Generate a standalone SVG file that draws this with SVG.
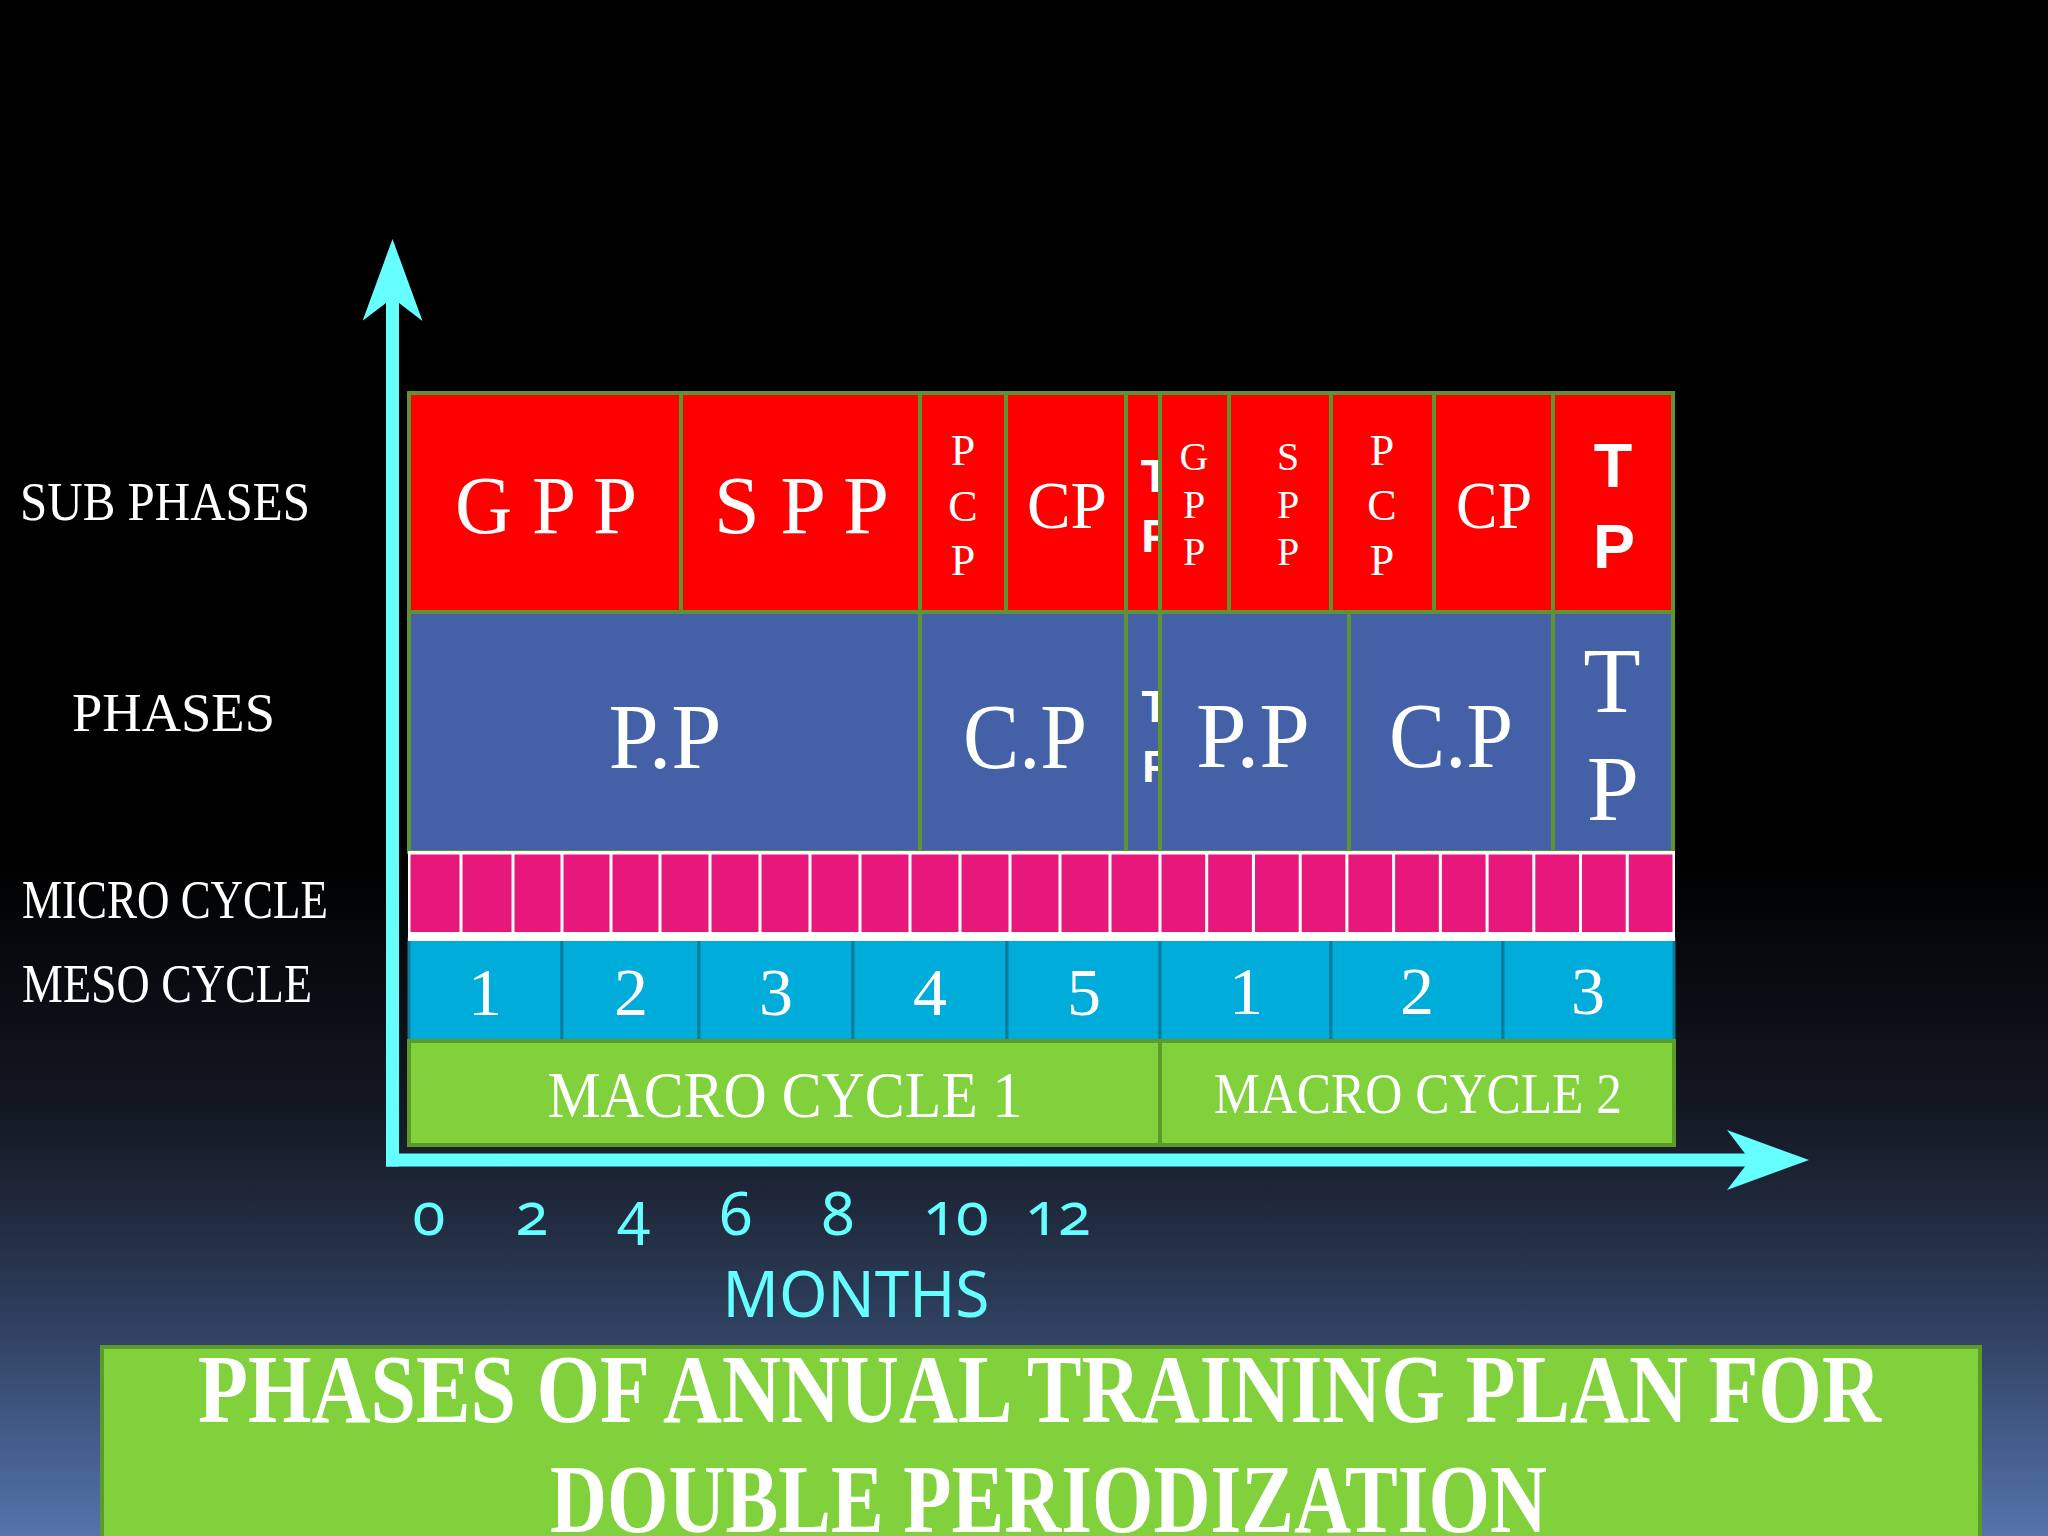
<svg xmlns="http://www.w3.org/2000/svg" width="2048" height="1536" viewBox="0 0 2048 1536">
  <defs>
    <linearGradient id="bg" gradientUnits="userSpaceOnUse" x1="0" y1="0" x2="0" y2="1536">
      <stop offset="0" stop-color="#000000"/>
      <stop offset="0.56" stop-color="#000000"/>
      <stop offset="0.72" stop-color="#121722"/>
      <stop offset="0.76" stop-color="#1b2231"/>
      <stop offset="0.84" stop-color="#2a3954"/>
      <stop offset="0.88" stop-color="#34476a"/>
      <stop offset="1" stop-color="#5474ac"/>
    </linearGradient>
    <marker id="arrow" markerUnits="userSpaceOnUse" markerWidth="82" markerHeight="60" viewBox="0 0 82 60" refX="23" refY="30" orient="auto">
      <path d="M0,0 L82,30 L0,60 L23,30 Z" fill="#66FFFF"/>
    </marker>
    <clipPath id="clipTr"><rect x="1128" y="395" width="30" height="215"/></clipPath>
    <clipPath id="clipTb"><rect x="1128" y="614" width="30" height="236"/></clipPath>
    <style>
      .red { fill: #FF0000; stroke: #5F9232; stroke-width: 4; }
      .blue { fill: #4461A8; stroke: #5F9232; stroke-width: 4; }
      .pink { fill: #E8177B; }
      .meso { fill: #00ACDA; stroke: #0B7C9E; stroke-width: 3; }
      .macro { fill: #80D13C; stroke: #5C9A2A; stroke-width: 4; }
      .serif { font-family: "Liberation Serif", "DejaVu Serif", serif; fill: #FFFFFF; }
      .sansb { font-family: "Liberation Sans", Arial, sans-serif; font-weight: bold; fill: #FFFFFF; }
      .mid { text-anchor: middle; }
      .lbl { font-size: 55px; }
      .big { font-size: 94px; }
      .sub { font-size: 83px; }
      .cp { font-size: 68px; }
      .vs { font-size: 44px; }
      .vg { font-size: 40px; }
      .num { font-size: 68px; }
      .month { font-family: "Noto Sans", "Open Sans", sans-serif; fill: #66FFFF; font-size: 60px; font-variant-numeric: oldstyle-nums; font-feature-settings: "onum" 1; text-anchor: middle; }
      .axis { stroke: #66FFFF; stroke-width: 13; fill: none; }
    </style>
  </defs>

  <rect x="0" y="0" width="2048" height="1536" fill="url(#bg)"/>

  <!-- Row labels -->
  <g id="row-labels">
    <text class="serif lbl" x="20" y="520" textLength="290" lengthAdjust="spacingAndGlyphs">SUB PHASES</text>
    <text class="serif lbl" x="72" y="731" textLength="203" lengthAdjust="spacingAndGlyphs">PHASES</text>
    <text class="serif lbl" x="22" y="918" textLength="306" lengthAdjust="spacingAndGlyphs">MICRO CYCLE</text>
    <text class="serif lbl" x="22" y="1002" textLength="290" lengthAdjust="spacingAndGlyphs">MESO CYCLE</text>
  </g>

  <!-- Sub phases row -->
  <g id="sub-gpp1"><rect class="red" x="409" y="393" width="272" height="219"/>
    <text class="serif sub" x="455" y="533" textLength="182" lengthAdjust="spacingAndGlyphs">G P P</text></g>
  <g id="sub-spp1"><rect class="red" x="681" y="393" width="239" height="219"/>
    <text class="serif sub" x="714" y="533" textLength="175" lengthAdjust="spacingAndGlyphs">S P P</text></g>
  <g id="sub-pcp1"><rect class="red" x="920" y="393" width="86" height="219"/>
    <text class="serif vs mid" x="963" y="465">P</text>
    <text class="serif vs mid" x="963" y="521">C</text>
    <text class="serif vs mid" x="963" y="575">P</text></g>
  <g id="sub-cp1"><rect class="red" x="1006" y="393" width="120" height="219"/>
    <text class="serif cp mid" x="1067" y="528" textLength="80" lengthAdjust="spacingAndGlyphs">CP</text></g>
  <g id="sub-tp1"><rect class="red" x="1126" y="393" width="34" height="219"/>
    <g clip-path="url(#clipTr)">
      <text class="sansb mid" font-size="47" x="1155" y="492">T</text>
      <text class="sansb mid" font-size="47" x="1157" y="552">P</text>
    </g></g>
  <g id="sub-gpp2"><rect class="red" x="1160" y="393" width="69" height="219"/>
    <text class="serif vg mid" x="1194" y="470">G</text>
    <text class="serif vg mid" x="1194" y="518">P</text>
    <text class="serif vg mid" x="1194" y="565">P</text></g>
  <g id="sub-spp2"><rect class="red" x="1229" y="393" width="102" height="219"/>
    <text class="serif vg mid" x="1288" y="470">S</text>
    <text class="serif vg mid" x="1288" y="518">P</text>
    <text class="serif vg mid" x="1288" y="565">P</text></g>
  <g id="sub-pcp2"><rect class="red" x="1331" y="393" width="103" height="219"/>
    <text class="serif vs mid" x="1382" y="465">P</text>
    <text class="serif vs mid" x="1382" y="520">C</text>
    <text class="serif vs mid" x="1382" y="575">P</text></g>
  <g id="sub-cp2"><rect class="red" x="1434" y="393" width="119" height="219"/>
    <text class="serif cp mid" x="1494" y="528" textLength="76" lengthAdjust="spacingAndGlyphs">CP</text></g>
  <g id="sub-tp2"><rect class="red" x="1553" y="393" width="120" height="219"/>
    <text class="sansb mid" font-size="63" x="1613" y="487">T</text>
    <text class="sansb mid" font-size="63" x="1614" y="568">P</text></g>

  <!-- Phases row -->
  <g id="ph-pp1"><rect class="blue" x="409" y="612" width="511" height="240"/>
    <text class="serif big mid" x="665" y="768" textLength="113" lengthAdjust="spacingAndGlyphs">P.P</text></g>
  <g id="ph-cp1"><rect class="blue" x="920" y="612" width="206" height="240"/>
    <text class="serif big mid" x="1025" y="768" textLength="124" lengthAdjust="spacingAndGlyphs">C.P</text></g>
  <g id="ph-tp1"><rect class="blue" x="1126" y="612" width="34" height="240"/>
    <g clip-path="url(#clipTb)">
      <text class="sansb mid" font-size="44" x="1155" y="722">T</text>
      <text class="sansb mid" font-size="44" x="1157" y="782">P</text>
    </g></g>
  <g id="ph-pp2"><rect class="blue" x="1160" y="612" width="189" height="240"/>
    <text class="serif big mid" x="1253" y="767" textLength="114" lengthAdjust="spacingAndGlyphs">P.P</text></g>
  <g id="ph-cp2"><rect class="blue" x="1349" y="612" width="204" height="240"/>
    <text class="serif big mid" x="1451" y="767" textLength="124" lengthAdjust="spacingAndGlyphs">C.P</text></g>
  <g id="ph-tp2"><rect class="blue" x="1553" y="612" width="120" height="240"/>
    <text class="serif big mid" x="1612" y="712">T</text>
    <text class="serif big mid" x="1613" y="820">P</text></g>

  <!-- Meso cycle row -->
  <g id="meso-1"><rect class="meso" x="409" y="939" width="153" height="102"/><text class="serif num mid" x="485" y="1015">1</text></g>
  <g id="meso-2"><rect class="meso" x="562" y="939" width="137" height="102"/><text class="serif num mid" x="631" y="1015">2</text></g>
  <g id="meso-3"><rect class="meso" x="699" y="939" width="154" height="102"/><text class="serif num mid" x="776" y="1015">3</text></g>
  <g id="meso-4"><rect class="meso" x="853" y="939" width="154" height="102"/><text class="serif num mid" x="930" y="1015">4</text></g>
  <g id="meso-5"><rect class="meso" x="1007" y="939" width="153" height="102"/><text class="serif num mid" x="1084" y="1015">5</text></g>
  <g id="meso-6"><rect class="meso" x="1160" y="939" width="171" height="102"/><text class="serif num mid" x="1246" y="1014">1</text></g>
  <g id="meso-7"><rect class="meso" x="1331" y="939" width="172" height="102"/><text class="serif num mid" x="1417" y="1014">2</text></g>
  <g id="meso-8"><rect class="meso" x="1503" y="939" width="171" height="102"/><text class="serif num mid" x="1588" y="1014">3</text></g>

  <!-- Micro cycle row -->
  <g id="micro-cycle">
    <rect x="408" y="851" width="1267" height="90" fill="#FFFFFF"/>
    <rect class="pink" x="410.5" y="854.5" width="49" height="77.5"/>
    <rect class="pink" x="462.5" y="854.5" width="49" height="77.5"/>
    <rect class="pink" x="514.5" y="854.5" width="46" height="77.5"/>
    <rect class="pink" x="563.5" y="854.5" width="46" height="77.5"/>
    <rect class="pink" x="612.5" y="854.5" width="46" height="77.5"/>
    <rect class="pink" x="661.5" y="854.5" width="47" height="77.5"/>
    <rect class="pink" x="711.5" y="854.5" width="47" height="77.5"/>
    <rect class="pink" x="761.5" y="854.5" width="47" height="77.5"/>
    <rect class="pink" x="811.5" y="854.5" width="47" height="77.5"/>
    <rect class="pink" x="861.5" y="854.5" width="47" height="77.5"/>
    <rect class="pink" x="911.5" y="854.5" width="47" height="77.5"/>
    <rect class="pink" x="961.5" y="854.5" width="47" height="77.5"/>
    <rect class="pink" x="1011.5" y="854.5" width="47" height="77.5"/>
    <rect class="pink" x="1061.5" y="854.5" width="47" height="77.5"/>
    <rect class="pink" x="1111.5" y="854.5" width="47" height="77.5"/>
    <rect class="pink" x="1161.5" y="854.5" width="43.7" height="77.5"/>
    <rect class="pink" x="1208.2" y="854.5" width="43.7" height="77.5"/>
    <rect class="pink" x="1255" y="854.5" width="43.7" height="77.5"/>
    <rect class="pink" x="1301.7" y="854.5" width="43.7" height="77.5"/>
    <rect class="pink" x="1348.4" y="854.5" width="43.7" height="77.5"/>
    <rect class="pink" x="1395.1" y="854.5" width="43.7" height="77.5"/>
    <rect class="pink" x="1441.9" y="854.5" width="43.7" height="77.5"/>
    <rect class="pink" x="1488.6" y="854.5" width="43.7" height="77.5"/>
    <rect class="pink" x="1535.3" y="854.5" width="43.7" height="77.5"/>
    <rect class="pink" x="1582" y="854.5" width="43.7" height="77.5"/>
    <rect class="pink" x="1628.8" y="854.5" width="43.7" height="77.5"/>
  </g>

  <!-- Macro cycle row -->
  <g id="macro-1"><rect class="macro" x="409" y="1041" width="751" height="104"/>
    <text class="serif mid" font-size="66" x="785" y="1117" textLength="475" lengthAdjust="spacingAndGlyphs">MACRO CYCLE 1</text></g>
  <g id="macro-2"><rect class="macro" x="1160" y="1041" width="514" height="104"/>
    <text class="serif mid" font-size="58" x="1418" y="1113" textLength="408" lengthAdjust="spacingAndGlyphs">MACRO CYCLE 2</text></g>

  <!-- Axes -->
  <g id="connectors">
    <line class="axis" x1="392.5" y1="1166.5" x2="392.5" y2="298" marker-end="url(#arrow)"/>
    <line class="axis" x1="386" y1="1160" x2="1750" y2="1160" marker-end="url(#arrow)"/>
  </g>

  <!-- Month labels -->
  <g id="months">
    <text class="month" x="429" y="1235">0</text>
    <text class="month" x="532" y="1235">2</text>
    <text class="month" x="634" y="1235">4</text>
    <text class="month" x="736" y="1235">6</text>
    <text class="month" x="838" y="1235">8</text>
    <text class="month" x="956" y="1235">10</text>
    <text class="month" x="1058" y="1235">12</text>
    <text class="month" x="856" y="1317" textLength="267" lengthAdjust="spacingAndGlyphs" style="font-variant-numeric: normal; font-size: 63px">MONTHS</text>
  </g>

  <!-- Title -->
  <g id="title">
    <rect x="102" y="1347" width="1878" height="200" fill="#80D13C" stroke="#5C9A2A" stroke-width="4"/>
    <text class="serif" font-weight="bold" font-size="98" x="198" y="1422" textLength="1683" lengthAdjust="spacingAndGlyphs">PHASES OF ANNUAL TRAINING PLAN FOR</text>
    <text class="serif" font-weight="bold" font-size="98" x="550" y="1532" textLength="997" lengthAdjust="spacingAndGlyphs">DOUBLE PERIODIZATION</text>
  </g>
</svg>
